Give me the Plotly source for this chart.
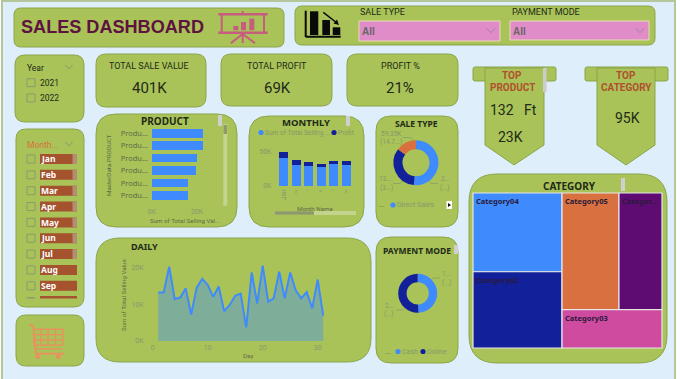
import plotly.graph_objects as go

W, H = 680, 379

# ---- data ----
products = ["Product 1", "Product 2", "Product 3", "Product 4", "Product 5", "Product 6"]
product_labels = ["Produ..."] * 6
product_sales = [22700, 22600, 20100, 19700, 16000, 16000]

months = ["Jan", "Feb", "Mar", "Apr", "May", "Jun"]
month_ticks = ["Jan", "~", "'", "<", "'", "~"]
month_sales = [41000, 31000, 29000, 27000, 32000, 31000]
month_profit = [8000, 6000, 5000, 5000, 3500, 5500]

sale_types = ["Direct Sales", "Channel", "Other"]
sale_values = [207000, 135000, 59350]

payment_modes = ["Cash", "Online"]
payment_values = [198000, 203000]

days = list(range(1, 32))
daily_sales = [13200, 13200, 20200, 11400, 11800, 14300, 7200, 14500, 16900, 15300, 12000,
               14800, 8100, 9800, 12300, 12900, 3700, 18600, 10200, 20500, 10700, 11600,
               18800, 11600, 18600, 13800, 11600, 13300, 8900, 16700, 6900]

categories = ["Category04", "Category02", "Category05", "Categor...", "Category03"]
category_values = [95000, 92000, 90000, 68000, 52000]

month_slicer = ["Jan", "Feb", "Mar", "Apr", "May", "Jun", "Jul", "Aug", "Sep"]
years = ["2021", "2022"]

# ---- style ----
GREEN = "#A9C358"
EDGE = "#8BA548"
BLUE = "#3F8BFD"
NAVY = "#12209A"
ORANGE = "#D9703F"
PURPLE = "#5F0C72"
PINK = "#CE4BA0"
FAINT = "#84996A"
MUTED = "#5E6B48"
DARK = "#222A18"
DIN = "Roboto"
UI = "Noto Sans"
SMALL = "Roboto"


def X(x):
    return x / W


def Y(y):
    return 1 - y / H


shapes = []
notes = []


def path_of(points, close=False):
    d = "M" + " L".join(f"{X(a):.5f} {Y(b):.5f}" for a, b in points)
    return d + (" Z" if close else "")


def poly(points, fill=None, line=None, width=1, close=True, layer="below"):
    s = dict(type="path", xref="paper", yref="paper", path=path_of(points, close), layer=layer,
             line=dict(color=line or "rgba(0,0,0,0)", width=width if line else 0))
    if fill:
        s["fillcolor"] = fill
    shapes.append(s)


def line(x0, y0, x1, y1, color, width=1, layer="below"):
    poly([(x0, y0), (x1, y1)], None, color, width, False, layer)


def rect(x0, y0, x1, y1, fill=None, edge=None, width=1, layer="below"):
    poly([(x0, y0), (x1, y0), (x1, y1), (x0, y1)], fill, edge, width, True, layer)


def panel(x0, y0, x1, y1, r, fill=GREEN, edge=EDGE):
    def p(a, b):
        return f"{X(a):.5f} {Y(b):.5f}"
    d = (f"M{p(x0 + r, y0)} L{p(x1 - r, y0)} Q{p(x1, y0)} {p(x1, y0 + r)} "
         f"L{p(x1, y1 - r)} Q{p(x1, y1)} {p(x1 - r, y1)} L{p(x0 + r, y1)} "
         f"Q{p(x0, y1)} {p(x0, y1 - r)} L{p(x0, y0 + r)} Q{p(x0, y0)} {p(x0 + r, y0)} Z")
    shapes.append(dict(type="path", xref="paper", yref="paper", path=d, layer="below",
                       fillcolor=fill, line=dict(color=edge, width=1)))


def text(x, y, s, size=9, color=DARK, anchor="center", font=UI, bold=False, angle=0):
    notes.append(dict(x=X(x), y=Y(y), xref="paper", yref="paper", text=f"<b>{s}</b>" if bold else s,
                      showarrow=False, xanchor=anchor, yanchor="middle", textangle=angle,
                      font=dict(size=size, color=color, family=font), borderpad=0, borderwidth=0))


def dot(x, y, r, color, layer="above"):
    shapes.append(dict(type="circle", xref="paper", yref="paper", layer=layer,
                       x0=X(x - r), x1=X(x + r), y0=Y(y + r), y1=Y(y - r),
                       fillcolor=color, line=dict(width=0)))


def chevron(x, y, color="#8C9A70", s=3.5):
    poly([(x - s, y - 2), (x, y + 2), (x + s, y - 2)], None, color, 1, False)


# page background and frame
rect(2, 1, 675, 379, "#DFEEFB", None)
line(2, 0, 2, 379, "#B4C79A", 2)
line(675, 0, 675, 379, "#B4C79A", 2)
line(2, 1, 675, 1, "#B4C79A", 2)

# panels
panel(14, 8, 284, 47, 7)
panel(295, 6, 655, 45, 7)
panel(15, 55, 84, 122, 10)
panel(96, 54, 206, 107, 10)
panel(221, 54, 332, 106, 10)
panel(347, 54, 458, 106, 10)
panel(96, 114, 237, 227, 20)
panel(249, 116, 364, 227, 20)
panel(376, 116, 458, 227, 15)
panel(376, 237, 458, 363, 15)
panel(96, 238, 371, 362, 24)
panel(16, 129, 84, 307, 10)
panel(16, 315, 84, 366, 10)
panel(469, 174, 667, 363, 28)

# ribbons
for x0, x1, tab0, tab1, tip in [(485, 544, 473, 556, 514), (597, 655, 585, 668, 626)]:
    panel(tab0, 67, tab1, 81, 2)
    poly([(x0, 68), (x1, 68), (x1, 145), (tip, 165), (x0, 145)], GREEN, EDGE, 1)

# presentation icon
ROSE = "#C65C7E"
line(242.7, 11, 242.7, 14.3, ROSE, 2)
line(218.3, 14.3, 267.7, 14.3, ROSE, 2.4)
line(221.7, 14.3, 221.7, 32.7, ROSE, 2)
line(264, 14.3, 264, 32.7, ROSE, 2)
line(218.3, 32.7, 267.7, 32.7, ROSE, 2.4)
line(242.7, 32.7, 242.7, 43, ROSE, 2)
line(242.7, 34, 230.7, 43.3, ROSE, 2)
line(242.7, 34, 255, 43.3, ROSE, 2)
rect(233.3, 26, 238.3, 30.3, ROSE)
rect(241, 22, 246, 30.3, ROSE)
rect(249.3, 18.7, 254.3, 30.3, ROSE)

# falling-bars icon
line(305.7, 10.7, 305.7, 37, "#0A0A0A", 2)
line(305.7, 36.7, 340.7, 36.7, "#0A0A0A", 2)
rect(310, 11.3, 318.3, 35, "#0A0A0A")
rect(322.3, 20, 330, 35, "#0A0A0A")
rect(332.7, 27.3, 340.3, 35, "#0A0A0A")
line(323.3, 12.3, 337, 23, "#0A0A0A", 1.5)
poly([(339, 25), (333.5, 23.5), (337, 19.5)], "#0A0A0A")

# cart icon
CART = "#E6935F"
line(29.3, 324.7, 33.3, 326, CART, 2)
line(33.3, 326, 36, 353.7, CART, 2)
line(36, 353.7, 64, 353.7, CART, 2)
rect(33.8, 329.3, 62.7, 345.3, None, CART, 1.6)
for gx in (41, 48, 55.5):
    line(gx, 329.3, gx, 345.3, CART, 1.4)
for gy in (334.7, 340):
    line(33.8, gy, 62.7, gy, CART, 1.4)
line(35, 349, 62, 349, CART, 1.5)
dot(37.7, 356.5, 2.5, CART, "below")
dot(58.3, 356.5, 2.5, CART, "below")

# header texts and dropdowns
text(21, 27.5, "SALES DASHBOARD", 18.1, "#5E1240", "left", "Liberation Sans", True)
text(360, 12.5, "SALE TYPE", 9, DARK, "left", DIN)
text(512, 12.5, "PAYMENT MODE", 9, DARK, "left", DIN)
for x0, x1, y0, y1 in [(359, 500, 21, 41), (510, 649, 21, 40)]:
    rect(x0, y0, x1, y1, "#E08CC8", "#E6DDB0", 1)
    chevron(x1 - 9, 30.5, "#A87FA0", 4.5)
    text(x0 + 3, 32, "All", 10, "#666666", "left", "Liberation Sans", True)

# KPI cards
for cx, label, value in [(149, "TOTAL SALE VALUE", "401K"), (277, "TOTAL PROFIT", "69K"), (400, "PROFIT %", "21%")]:
    text(cx, 66, label, 9, DARK, "center", DIN)
    text(cx, 88, value, 15, DARK, "center", DIN)

# ribbon texts
RUST = "#B0502F"
text(512, 75, "TOP", 10, RUST, "center", DIN, True)
text(512, 88, "PRODUCT", 10, RUST, "center", DIN, True)
text(513, 110, "132&nbsp;&nbsp;&nbsp;Ft", 14, DARK, "center", DIN)
text(510, 136.5, "23K", 14, DARK, "center", DIN)
text(626, 75, "TOP", 10, RUST, "center", DIN, True)
text(626, 88, "CATEGORY", 10, RUST, "center", DIN, True)
text(627, 118, "95K", 14, DARK, "center", DIN)
rect(543, 68, 546.5, 92, "#CCCCCC")

# year slicer
text(27, 68, "Year", 8.5, DARK, "left", DIN)
chevron(69, 67)
for yy, lab in zip((82.7, 98), years):
    rect(27, yy - 4, 35, yy + 4, None, "#8C9A70", 1)
    text(40, yy, lab, 8.5, DARK, "left", DIN)

# month slicer
text(27, 145, "Month...", 8.5, ORANGE, "left", DIN)
chevron(69, 144)
for i, mon in enumerate(month_slicer):
    yy = 159 + i * 15.85
    rect(27, yy - 4, 35, yy + 4, None, "#8C9A70", 1)
    rect(40, yy - 5, 77, yy + 5, "#A5522F")
    if i < 7:
        rect(72.5, yy - 5, 77, yy + 5, "#B28E72")
    text(40.5, yy, mon, 8.5, "#FFFFFF", "left", "Noto Sans", True)
rect(40, 296, 77, 298.5, "#A5522F")
rect(27, 297, 35, 298.5, "#8C9A70")

# panel titles
text(165, 121, "PRODUCT", 10, DARK, "center", UI, True)
text(305.7, 122, "MONTHLY", 9.5, DARK, "center", UI, True)
text(416.7, 123.5, "SALE TYPE", 8.5, DARK, "center", UI, True)
text(416.7, 250, "PAYMENT MODE", 8.5, DARK, "center", UI, True)
text(569, 185.7, "CATEGORY", 10, DARK, "center", UI, True)
text(131, 246.5, "DAILY", 9, DARK, "left", UI, True)

# product chrome
rect(218, 115, 222, 126, "#CFCFCF")
rect(223.3, 124, 227.3, 205.7, "#C3D48F")
rect(223.5, 125, 227, 134, "#8F9A6B")
text(109, 165, "MasterData.PRODUCT", 6.2, MUTED, "center", SMALL, False, -90)
text(185, 221, "Sum of Total Selling Val...", 6.2, MUTED, "center", SMALL)

# monthly chrome
rect(346, 116, 350, 126, "#CFCFCF")
dot(261, 132.5, 2.6, BLUE)
text(265, 133, "Sum of Total Selling ...", 6.6, FAINT, "left", SMALL)
dot(334, 132.5, 2.6, NAVY)
text(338, 133, "Profit", 6.6, FAINT, "left", SMALL)
text(315, 209, "Month Name", 6.2, MUTED, "center", SMALL)
rect(274, 211, 356, 215, "#C3D48F")
rect(274.5, 211.3, 314, 214.7, "#8D9A65")

# daily chrome
text(124, 295, "Sum of Total Selling Value", 6.2, MUTED, "center", SMALL, False, -90)
text(248, 356, "Day", 6.2, MUTED, "center", SMALL)

# donut labels
for x, y, s in [(391.7, 133.7, "59.35K"), (390.7, 141.7, "(14.7...)"), (385.7, 179, "13..."), (386, 187.7, "(3...)"),
                (445, 179, "2..."), (445, 187.7, "(...)"), (446.7, 274, "1..."), (446.7, 283, "(...)"),
                (389, 305.7, "2..."), (389, 314.3, "(...)")]:
    text(x, y, s, 6.5, FAINT, "center", SMALL)
for seg in [((403, 137.5), (411, 137.5), (414, 141)), ((393, 183.5), (400, 183.5), (404, 180)),
            ((438, 183.5), (431, 183.5), (428, 180)), ((440, 278), (433, 278), (430, 282)),
            ((396, 310), (403, 310), (407, 306))]:
    poly(list(seg), None, FAINT, 0.7, False)
text(382, 205, "...", 7, MUTED, "center", SMALL)
dot(393, 205, 2.6, BLUE)
text(397, 205, "Direct Sales", 7, FAINT, "left", SMALL)
text(388, 352, "...", 7, MUTED, "center", SMALL)
dot(398, 351.5, 2.6, BLUE)
text(402, 351.5, "Cash", 7, FAINT, "left", SMALL)
dot(423, 351.5, 2.6, NAVY)
text(427, 351.5, "Online", 7, FAINT, "left", SMALL)

# scroll/nav handles
rect(454, 245, 458, 254, "#CFCFCF")
rect(621, 178, 625, 191, "#CFCFCF")
shapes.append(dict(type="rect", xref="paper", yref="paper", layer="above", x0=X(446.5), x1=X(452), y0=Y(209), y1=Y(201),
                   fillcolor="#FFFFFF", line=dict(width=0)))
poly([(448, 203), (451, 205), (448, 207)], "#111111", None, 0, True, "above")

fig = go.Figure()

# product bars
fig.add_trace(go.Bar(x=product_sales, y=products, orientation="h", marker=dict(color=BLUE, line=dict(width=0)),
                     xaxis="x", yaxis="y", showlegend=False))
# monthly stacked bars
fig.add_trace(go.Bar(x=months, y=month_sales, marker=dict(color=BLUE, line=dict(width=0)), xaxis="x2", yaxis="y2",
                     showlegend=False))
fig.add_trace(go.Bar(x=months, y=month_profit, marker=dict(color=NAVY, line=dict(width=0)), xaxis="x2", yaxis="y2",
                     showlegend=False))
# daily area
fig.add_trace(go.Scatter(x=days, y=daily_sales, mode="lines", line=dict(color=BLUE, width=2), fill="tozeroy",
                         fillcolor="rgba(63,139,253,0.4)", xaxis="x3", yaxis="y3", showlegend=False))
# donuts
fig.add_trace(go.Pie(labels=sale_types, values=sale_values, hole=0.6, sort=False, direction="clockwise", rotation=0,
                     marker=dict(colors=[BLUE, NAVY, ORANGE], line=dict(width=0)), textinfo="none", showlegend=False,
                     domain=dict(x=[X(416 - 22.5), X(416 + 22.5)], y=[Y(162.7 + 22.5), Y(162.7 - 22.5)])))
fig.add_trace(go.Pie(labels=payment_modes, values=payment_values, hole=0.57, sort=False, direction="clockwise", rotation=0,
                     marker=dict(colors=[BLUE, NAVY], line=dict(width=0)), textinfo="none", showlegend=False,
                     domain=dict(x=[X(417.7 - 19.5), X(417.7 + 19.5)], y=[Y(293.3 + 19.5), Y(293.3 - 19.5)])))
# treemap
fig.add_trace(go.Treemap(labels=categories, parents=[""] * 5, values=category_values, sort=True,
                         marker=dict(colors=[BLUE, NAVY, ORANGE, PURPLE, PINK], line=dict(color="#E6E6E6", width=1.2),
                                     pad=dict(t=0, l=0, r=0, b=0)),
                         tiling=dict(pad=0, packing="squarify", squarifyratio=1.5),
                         pathbar=dict(visible=False), texttemplate="<b>%{label}</b>", textposition="top left",
                         textfont=dict(size=7.5, color="#2A1A3A", family=UI),
                         domain=dict(x=[X(473), X(662)], y=[Y(348), Y(193)])))

tickfont_faint = dict(size=7, color=FAINT, family=SMALL)
axis_off = dict(showline=False, zeroline=False, showgrid=False, ticks="")

fig.update_layout(
    width=W, height=H, autosize=False, margin=dict(l=0, r=0, t=0, b=0, pad=0, autoexpand=False), paper_bgcolor="#FFFFFF",
    plot_bgcolor="rgba(0,0,0,0)", barmode="stack", bargap=0.3, shapes=shapes, annotations=notes, hovermode=False,
    xaxis=dict(domain=[X(152), X(215)], range=[0, 28000], anchor="y", tickvals=[0, 20000], ticktext=["0K", "20K"],
               tickfont=tickfont_faint, ticklabelstandoff=4, **axis_off),
    yaxis=dict(domain=[Y(201.6), Y(127)], autorange="reversed", anchor="x", tickmode="array", tickvals=products,
               ticktext=product_labels, ticklabelstandoff=3, tickfont=dict(size=7.5, color=MUTED, family=UI), **axis_off),
    xaxis2=dict(domain=[X(277.5), X(352.5)], anchor="y2", tickmode="array", tickvals=months, ticktext=month_ticks,
                tickangle=-90, ticklabelstandoff=1, tickfont=dict(size=6.5, color=FAINT, family=SMALL), **axis_off),
    yaxis2=dict(domain=[Y(186), Y(144.4)], range=[0, 60000], anchor="x2", tickvals=[0, 50000], ticktext=["0K", "50K"],
                tickfont=tickfont_faint, ticklabelstandoff=5, **axis_off),
    xaxis3=dict(domain=[X(152.7), X(334.2)], range=[0, 33], anchor="y3", tickvals=[0, 10, 20, 30],
                tickfont=tickfont_faint, ticklabelstandoff=1, **axis_off),
    yaxis3=dict(domain=[Y(341), Y(258.2)], range=[0, 22500], anchor="x3", tickvals=[0, 10000, 20000],
                ticktext=["0K", "10K", "20K"], tickfont=tickfont_faint, ticklabelstandoff=8, **axis_off),
)

fig.write_html("out.html", config=dict(displayModeBar=False),
               post_script="document.body.style.margin='0';document.body.style.overflow='hidden';")
